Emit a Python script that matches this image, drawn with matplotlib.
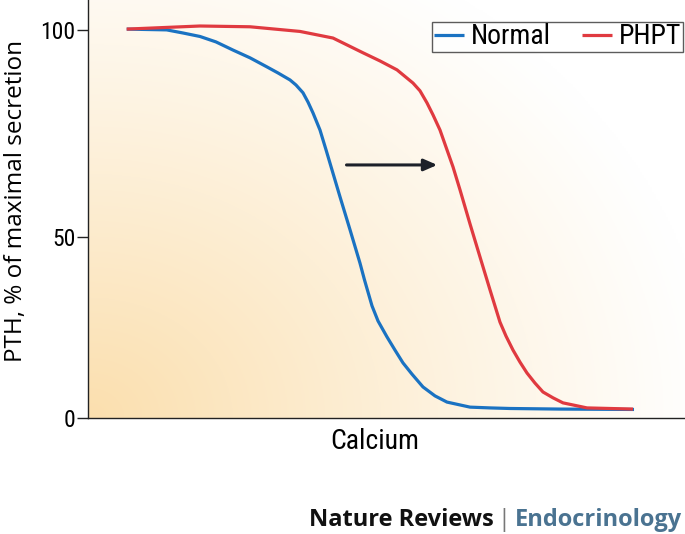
import numpy as np
import matplotlib.pyplot as plt
from matplotlib import font_manager
from matplotlib.colors import to_rgb

# curve samples (x: calcium, arbitrary 0-100; y: % of max)
normal_x = [6.48, 13.18, 15.91, 18.76, 21.44, 24.29, 27.14, 29.93, 31.83, 33.84, 34.84,
            36.01, 36.85, 37.69, 38.86, 39.87, 42.21, 43.89, 45.56, 46.31, 47.57, 48.58,
            50.08, 51.42, 52.76, 54.27, 56.11, 58.12, 60.13, 63.99, 67.34, 70.69, 79.06,
            91.46]
normal_y = [100.2, 100.0, 99.2, 98.3, 96.9, 94.8, 92.8, 90.5, 88.9, 87.1, 85.8,
            83.8, 81.4, 78.6, 74.2, 69.1, 57.0, 48.5, 39.9, 35.6, 28.9, 25.0,
            20.9, 17.5, 14.2, 11.3, 8.0, 5.7, 4.1, 2.8, 2.6, 2.45, 2.3,
            2.2]
phpt_x = [6.48, 18.76, 27.14, 35.51, 41.04, 46.06, 48.91, 51.76, 54.44, 55.61, 56.78,
          57.79, 58.96, 60.13, 61.14, 62.31, 63.99, 65.66, 67.34, 69.01, 70.02, 71.19,
          72.36, 73.53, 74.87, 76.21, 77.89, 79.56, 83.58, 91.29]
phpt_y = [100.2, 101.0, 100.8, 99.6, 97.9, 94.1, 92.0, 89.7, 86.3, 84.3, 81.2,
          78.1, 74.2, 69.1, 64.7, 58.8, 50.0, 41.5, 33.0, 24.7, 21.1, 17.5,
          14.4, 11.6, 9.0, 6.7, 5.2, 3.9, 2.6, 2.3]

y_ticks = [0, 46.6, 100]
y_labels = ['0', '50', '100']
arrow_start = (43.3, 65.2)
arrow_end = (58.5, 65.2)

installed = {f.name for f in font_manager.fontManager.ttflist}
def pick(cands):
    return [c for c in cands if c in installed] + ['DejaVu Sans']

narrow = pick(['Liberation Sans Narrow', 'Roboto Condensed', 'Open Sans Condensed', 'Roboto'])
wide = pick(['Open Sans', 'Noto Sans'])

fig = plt.figure(figsize=(6.85, 5.34), dpi=100)
ax = fig.add_axes([88/685, 1-418/534, 597/685, 418/534])
ax.set_xlim(0, 100)
ax.set_ylim(0, 107.7)

# warm glow from the lower-left corner
u, v = np.meshgrid(np.linspace(0, 1, 300), np.linspace(0, 1, 300))
r = np.sqrt((u/1.05)**2 + (v/1.25)**2)
a = np.clip(1 - r, 0, 1)**1.1
c0 = np.array(to_rgb('#fbdfae'))
img = 1 - a[..., None]*(1 - c0)
ax.imshow(img, extent=[0, 100, 0, 107.7], origin='lower', aspect='auto', zorder=0)

ax.plot(normal_x, normal_y, color='#1a72c2', lw=2.3, label='Normal', zorder=2,
        solid_joinstyle='round', solid_capstyle='butt')
ax.plot(phpt_x, phpt_y, color='#e03a40', lw=2.3, label='PHPT', zorder=3,
        solid_joinstyle='round', solid_capstyle='butt')

ax.annotate('', xy=arrow_end, xytext=arrow_start,
            arrowprops=dict(arrowstyle='-|>,head_length=0.8,head_width=0.35',
                            color='#1c2029', lw=2.2, shrinkA=0, shrinkB=0))

for s in ['top', 'right']:
    ax.spines[s].set_visible(False)
for s in ['left', 'bottom']:
    ax.spines[s].set_linewidth(1.0)
    ax.spines[s].set_color('#222222')
ax.set_xticks([])
ax.set_yticks(y_ticks)
ax.set_yticklabels(y_labels, family=narrow, fontsize=17)
ax.tick_params(axis='y', length=8, width=1, pad=1, color='#222222')

ax.set_xlabel('Calcium', family=narrow, fontsize=20)
ax.xaxis.set_label_coords((375-88)/597, -0.025)
ax.set_ylabel('PTH, % of maximal secretion', family=wide, fontsize=17.5)
ax.yaxis.set_label_coords(-0.101, 0.52)

leg = ax.legend(loc='upper right', bbox_to_anchor=(683/685, 1-22/534),
                bbox_transform=fig.transFigure, ncol=2, frameon=True, fancybox=False,
                prop=dict(family=narrow, size=20), handlelength=1.1, handletextpad=0.25,
                columnspacing=1.1, borderpad=0.05, borderaxespad=0)
leg.get_frame().set_edgecolor('#333333')
leg.get_frame().set_linewidth(1.0)

# footer credit
renderer = fig.canvas.get_renderer()
base = 1-526/534
t1 = fig.text(682/685, base, 'Endocrinology', ha='right', va='baseline',
              family=wide, fontsize=17, weight='bold', color='#4a7391')
bb = t1.get_window_extent(renderer)
t2 = fig.text((bb.x0-4)/685, base, '|', ha='right', va='baseline',
              family=wide, fontsize=17, color='#777777')
bb2 = t2.get_window_extent(renderer)
fig.text((bb2.x0-4)/685, base, 'Nature Reviews', ha='right', va='baseline',
         family=wide, fontsize=17, weight='bold', color='#111111')

fig.savefig('out.png', dpi=100)
